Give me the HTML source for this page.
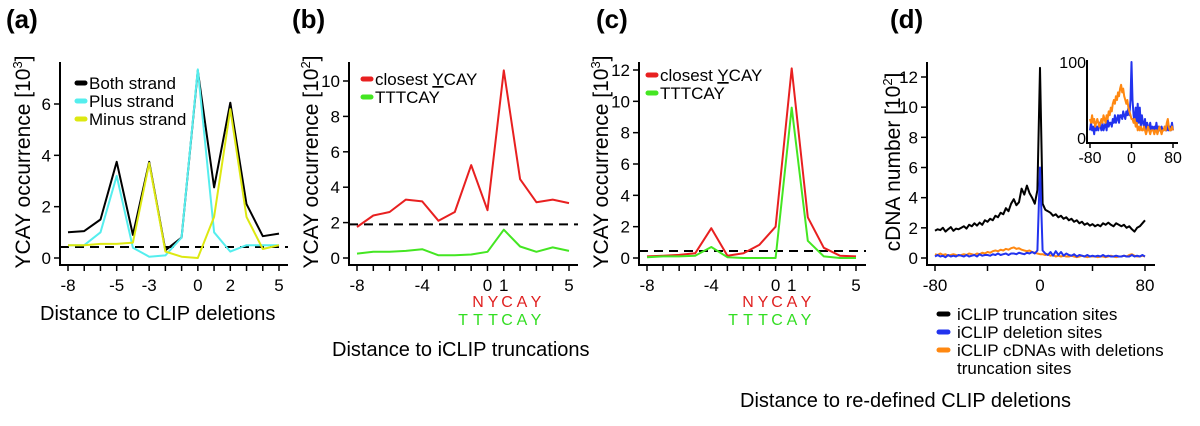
<!DOCTYPE html>
<html><head><meta charset="utf-8"><style>
body{margin:0;background:#fff}
svg{display:block;font-family:"Liberation Sans",Arial,sans-serif}
</style></head><body>
<svg id="fig" width="1200" height="426" viewBox="0 0 1200 426">
<g id="static">
<text x="6" y="28" font-size="26" font-weight="bold">(a)</text>
<text x="292" y="28" font-size="26" font-weight="bold">(b)</text>
<text x="596" y="28" font-size="26" font-weight="bold">(c)</text>
<text x="890" y="28" font-size="26" font-weight="bold">(d)</text>
<text x="40" y="320" font-size="20">Distance to CLIP deletions</text>
<text x="332" y="356" font-size="20">Distance to iCLIP truncations</text>
<text x="740" y="407" font-size="20">Distance to re-defined CLIP deletions</text>
<g font-size="16" text-anchor="middle">
<text y="307" fill="#e02020"><tspan x="478">N</tspan><tspan x="493">Y</tspan><tspan x="507">C</tspan><tspan x="522">A</tspan><tspan x="536">Y</tspan></text>
<text y="325" fill="#33dd22"><tspan x="463">T</tspan><tspan x="478">T</tspan><tspan x="493">T</tspan><tspan x="507">C</tspan><tspan x="522">A</tspan><tspan x="536">Y</tspan></text>
</g>
<g font-size="16" text-anchor="middle">
<text y="307" fill="#e02020"><tspan x="748">N</tspan><tspan x="763">Y</tspan><tspan x="777">C</tspan><tspan x="792">A</tspan><tspan x="806">Y</tspan></text>
<text y="325" fill="#33dd22"><tspan x="733">T</tspan><tspan x="748">T</tspan><tspan x="763">T</tspan><tspan x="777">C</tspan><tspan x="792">A</tspan><tspan x="806">Y</tspan></text>
</g>
<g font-size="17">
<line x1="939" y1="314" x2="948" y2="314" stroke="#000" stroke-width="5" stroke-linecap="round"/>
<text x="957" y="320">iCLIP truncation sites</text>
<line x1="939" y1="332" x2="948" y2="332" stroke="#2233ee" stroke-width="5" stroke-linecap="round"/>
<text x="957" y="338">iCLIP deletion sites</text>
<line x1="939" y1="350" x2="948" y2="350" stroke="#ff8811" stroke-width="5" stroke-linecap="round"/>
<text x="957" y="356">iCLIP cDNAs with deletions</text>
<text x="957" y="374">truncation sites</text>
</g>
</g>
<g id="plots"></g>
</svg>
<script>
// Panel a
const aX = [-8,-7,-6,-5,-4,-3,-2,-1,0,1,2,3,4,5];
const aBoth = [1.0,1.05,1.5,3.75,0.9,3.75,0.3,0.8,7.3,2.75,6.05,2.1,0.85,0.95];
const aPlus = [0.5,0.5,1.0,3.2,0.4,0.05,0.1,0.8,7.35,1.0,0.25,0.5,0.5,0.5];
const aMinus = [0.5,0.5,0.55,0.55,0.6,3.7,0.25,0.05,0.0,1.6,5.8,1.6,0.35,0.5];
const aDash = 0.43;
const aXTicks = [-8,-5,-3,0,2,5];
const aYTicks = [0,2,4,6];
// Panel b
const bX = [-8,-7,-6,-5,-4,-3,-2,-1,0,1,2,3,4,5];
const bRed = [1.75,2.4,2.6,3.3,3.2,2.1,2.6,5.25,2.7,10.6,4.45,3.15,3.3,3.1];
const bGreen = [0.25,0.35,0.35,0.4,0.5,0.15,0.15,0.2,0.35,1.6,0.65,0.35,0.6,0.4];
const bDash = 1.9;
const bXTicks = [-8,-4,0,1,5];
const bYTicks = [0,2,4,6,8,10];
// Panel c
const cX = [-8,-7,-6,-5,-4,-3,-2,-1,0,1,2,3,4,5];
const cRed = [0.1,0.15,0.2,0.3,1.9,0.15,0.3,0.85,2.0,12.1,2.6,0.65,0.15,0.1];
const cGreen = [0.05,0.1,0.1,0.15,0.7,0.05,0.0,0.0,0.0,9.6,1.1,0.1,0.0,0.0];
const cDash = 0.45;
const cXTicks = [-8,-4,0,1,5];
const cYTicks = [0,2,4,6,8,10,12];
// Panel d
const dX = [];
for (let i = 0; i <= 80; i++) dX.push(-80 + 2 * i);
const dBlack = [1.8,1.9,1.85,2.0,1.75,1.9,2.05,1.8,1.95,1.9,
2.0,2.1,1.95,2.2,2.1,2.3,2.15,2.35,2.2,2.5,
2.4,2.6,2.5,2.8,2.7,3.0,2.9,3.3,3.1,3.6,
3.9,3.5,3.7,4.6,4.2,4.8,4.3,4.0,3.6,4.5,
12.6,
3.6,3.2,3.1,3.0,2.8,2.9,2.7,2.8,2.6,2.7,
2.5,2.6,2.4,2.5,2.3,2.4,2.2,2.3,2.15,2.25,
2.1,2.2,2.1,2.3,2.2,2.35,2.2,2.1,2.3,2.2,
2.1,2.2,2.0,2.1,1.9,1.75,2.0,2.1,2.3,2.5];
const dBlue = [0.1,0.2,0.1,0.15,0.05,0.2,0.1,0.15,0.1,0.2,
0.15,0.1,0.2,0.1,0.15,0.2,0.1,0.25,0.15,0.2,
0.2,0.15,0.25,0.2,0.3,0.2,0.25,0.3,0.2,0.3,
0.3,0.25,0.35,0.3,0.25,0.35,0.3,0.4,0.3,0.5,
6.0,
0.5,0.3,0.2,0.4,0.15,0.45,0.2,0.4,0.15,0.3,
0.2,0.15,0.25,0.1,0.2,0.15,0.1,0.2,0.1,0.15,
0.1,0.15,0.1,0.2,0.1,0.15,0.1,0.1,0.15,0.1,
0.1,0.15,0.1,0.1,0.2,0.1,0.15,0.1,0.2,0.1];
const dOrange = [0.25,0.2,0.3,0.2,0.25,0.15,0.2,0.25,0.2,0.15,
0.2,0.25,0.2,0.3,0.25,0.2,0.3,0.25,0.35,0.3,
0.4,0.35,0.45,0.5,0.45,0.55,0.5,0.6,0.55,0.65,
0.7,0.6,0.65,0.55,0.5,0.45,0.5,0.4,0.35,0.3,
0.25,
0.25,0.2,0.25,0.15,0.2,0.1,0.15,0.1,0.15,0.1,
0.1,0.15,0.1,0.05,0.1,0.15,0.1,0.05,0.1,0.1,
0.1,0.05,0.1,0.1,0.05,0.1,0.15,0.1,0.05,0.1,
0.1,0.15,0.1,0.2,0.25,0.15,0.1,0.1,0.15,0.1];
const dXTicks = [-80,0,80];
const dMinorX = [-80,-40,0,40,80];
const dYTicks = [0,2,4,6,8,10,12];
const insetScale = 100;
const insetXTicks = [-80,0,80];
const insetYTicks = [0,100];

const NS = "http://www.w3.org/2000/svg";
const root = document.getElementById('plots');
function mk(tag, attrs, parent) {
  const e = document.createElementNS(NS, tag);
  for (const k in attrs) e.setAttribute(k, attrs[k]);
  (parent || root).appendChild(e);
  return e;
}
function scale(d0, d1, r0, r1) { return v => r0 + (v - d0) / (d1 - d0) * (r1 - r0); }

function axes(cfg) {
  const g = mk('g', {});
  
  
  const {sx, sy, axX, axY, yTop, xR} = cfg;
  mk('line', {x1: axX, y1: yTop, x2: axX, y2: axY + 1, stroke: '#000', 'stroke-width': 2}, g);
  mk('line', {x1: axX - 1, y1: axY, x2: xR, y2: axY, stroke: '#000', 'stroke-width': 2}, g);
  cfg.minor.forEach(v => mk('line', {x1: sx(v), y1: axY, x2: sx(v), y2: axY + 6, stroke: '#000', 'stroke-width': 1.5}, g));
  cfg.xTicks.forEach(v => {
    const t = mk('text', {x: sx(v), y: axY + 26, 'font-size': 17, 'text-anchor': 'middle'}, g);
    t.textContent = v;
  });
  cfg.yTicks.forEach(v => {
    mk('line', {x1: axX - 6, y1: sy(v), x2: axX, y2: sy(v), stroke: '#000', 'stroke-width': 1.5}, g);
    const t = mk('text', {x: axX - 9, y: sy(v) + 6, 'font-size': 17, 'text-anchor': 'end'}, g);
    t.textContent = v;
  });
}
function line(xs, ys, sx, sy, color, name, clipMax) {
  const pts = xs.map((x, i) => sx(x).toFixed(1) + ',' + sy(clipMax !== undefined ? Math.min(ys[i], clipMax) : ys[i]).toFixed(1)).join(' ');
  const p = mk('polyline', {points: pts, fill: 'none', stroke: color, 'stroke-width': 2, 'stroke-linejoin': 'round'});
  
  
}
function dash(v, x1, x2, sy, name) {
  const l = mk('line', {x1: x1, x2: x2, y1: sy(v), y2: sy(v), stroke: '#000', 'stroke-width': 2, 'stroke-dasharray': '9,6'});
  
  
}
function ytitle(x, y, txt, sup, name) {
  const t = mk('text', {transform: `translate(${x},${y}) rotate(-90)`, 'font-size': 21, 'text-anchor': 'middle'});
  
  
  t.innerHTML = txt + ' [10<tspan font-size="13" dy="-8">' + sup + '</tspan><tspan dy="8">]</tspan>';
}
function legend(x, y, items, name) {
  const g = mk('g', {'font-size': 17});
  
  
  items.forEach((it, i) => {
    mk('line', {x1: x, x2: x + 8, y1: y + i * 18, y2: y + i * 18, stroke: it[1], 'stroke-width': 5, 'stroke-linecap': 'round'}, g);
    const t = mk('text', {x: x + 12, y: y + i * 18 + 6}, g);
    t.innerHTML = it[0];
  });
}
const minor14 = [-8,-7,-6,-5,-4,-3,-2,-1,0,1,2,3,4,5];

{
  const sx = scale(-8, 5, 68, 279), sy = scale(0, 6, 258, 104);
  axes({name: 'panel-a', sx, sy, axX: 60, axY: 265, yTop: 62, xR: 288, minor: minor14, xTicks: aXTicks, yTicks: aYTicks});
  dash(aDash, 60, 288, sy, 'threshold-line-a');
  line(aX, aBoth, sx, sy, '#000', 'both-strand-line');
  line(aX, aPlus, sx, sy, '#55eeee', 'plus-strand-line');
  line(aX, aMinus, sx, sy, '#dde811', 'minus-strand-line');
  ytitle(30, 162, 'YCAY occurrence', '3', 'y-axis-title-a');
  legend(77, 83, [['Both strand', '#000'], ['Plus strand', '#55eeee'], ['Minus strand', '#dde811']], 'legend-a');
}
{
  const sx = scale(-8, 5, 357, 569), sy = scale(0, 10, 258, 81);
  axes({name: 'panel-b', sx, sy, axX: 349, axY: 265, yTop: 62, xR: 578, minor: minor14, xTicks: bXTicks, yTicks: bYTicks});
  dash(bDash, 349, 578, sy, 'threshold-line-b');
  line(bX, bRed, sx, sy, '#e82020', 'closest-ycay-line-b');
  line(bX, bGreen, sx, sy, '#44e622', 'tttcay-line-b');
  ytitle(318, 162, 'YCAY occurrence', '2', 'y-axis-title-b');
  legend(363, 79, [['closest <tspan text-decoration="underline">Y</tspan>CAY', '#e82020'], ['TTTCAY', '#44e622']], 'legend-b');
}
{
  const sx = scale(-8, 5, 647, 856), sy = scale(0, 12, 258, 70);
  axes({name: 'panel-c', sx, sy, axX: 639, axY: 265, yTop: 62, xR: 866, minor: minor14, xTicks: cXTicks, yTicks: cYTicks});
  dash(cDash, 639, 866, sy, 'threshold-line-c');
  line(cX, cRed, sx, sy, '#e82020', 'closest-ycay-line-c');
  line(cX, cGreen, sx, sy, '#44e622', 'tttcay-line-c');
  ytitle(608, 162, 'YCAY occurrence', '3', 'y-axis-title-c');
  legend(648, 75, [['closest <tspan text-decoration="underline">Y</tspan>CAY', '#e82020'], ['TTTCAY', '#44e622']], 'legend-c');
}
{
  const sx = scale(-80, 80, 935, 1145), sy = scale(0, 12, 258, 77);
  axes({name: 'panel-d', sx, sy, axX: 927, axY: 265, yTop: 62, xR: 1155, minor: dMinorX, xTicks: dXTicks, yTicks: dYTicks});
  line(dX, dBlack, sx, sy, '#000', 'truncation-sites-line');
  line(dX, dOrange, sx, sy, '#ff8811', 'cdna-deletions-line');
  line(dX, dBlue, sx, sy, '#2233ee', 'deletion-sites-line');
  ytitle(900, 162, 'cDNA number', '2', 'y-axis-title-d');
  const ix = scale(-80, 80, 1090, 1173), iy = scale(0, 100, 138, 62);
  const g = mk('g', {});
  
  
  mk('line', {x1: 1087, y1: 60, x2: 1087, y2: 143, stroke: '#000', 'stroke-width': 2}, g);
  mk('line', {x1: 1086, y1: 143, x2: 1178, y2: 143, stroke: '#000', 'stroke-width': 2}, g);
  insetXTicks.forEach(v => {
    mk('line', {x1: ix(v), y1: 143, x2: ix(v), y2: 148, stroke: '#000', 'stroke-width': 1.5}, g);
    const t = mk('text', {x: ix(v), y: 163, 'font-size': 16, 'text-anchor': 'middle'}, g);
    t.textContent = v;
  });
  insetYTicks.forEach(v => {
    const t = mk('text', {x: 1086, y: iy(v) + 6, 'font-size': 16, 'text-anchor': 'end'}, g);
    t.textContent = v;
  });
  line(dX, dBlue.map(v => v * insetScale), ix, iy, '#2233ee', 'inset-deletion-line', 100);
  line(dX, dOrange.map(v => v * insetScale), ix, iy, '#ff8811', 'inset-cdna-line', 100);
}
</script>
</body></html>
